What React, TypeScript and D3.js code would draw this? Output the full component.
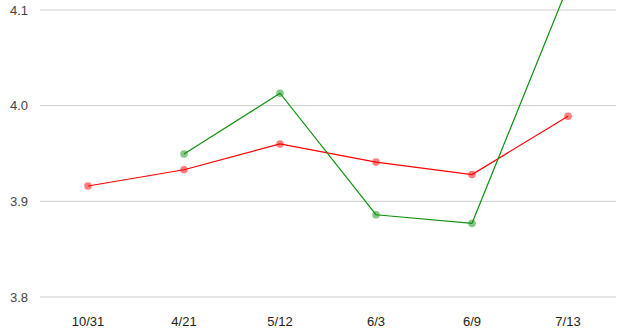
import React, { useEffect } from "react";
import * as d3 from "d3";

const categories = ["10/31", "4/21", "5/12", "6/3", "6/9", "7/13"];
const redSeries: (number | null)[] = [3.916, 3.933, 3.960, 3.941, 3.928, 3.989];
const greenSeries: (number | null)[] = [null, 3.9495, 4.013, 3.886, 3.877, 4.125];
const yTicks = [3.8, 3.9, 4.0, 4.1];

const W = 640;
const H = 336;
const left = 40;
const right = 616;
const top = 10;
const bottom = 297;

export default function App() {
  useEffect(() => {
    document.body.style.margin = "0";
  }, []);

  const x = d3.scalePoint<string>().domain(categories).range([left, right]).padding(0.5);
  const y = d3.scaleLinear().domain([3.8, 4.1]).range([bottom, top]);

  const line = d3
    .line<number | null>()
    .defined((d) => d !== null)
    .x((_, i) => x(categories[i]) as number)
    .y((d) => y(d as number));

  const series = [
    { data: redSeries, color: "#ff0000" },
    { data: greenSeries, color: "#109010" },
  ];

  return (
    <svg width={W} height={H} style={{ position: "fixed", left: 0, top: 0, display: "block" }}
      fontFamily="'Liberation Sans', Arial, sans-serif">
      <rect width={W} height={H} fill="#fff" />
      {yTicks.map((t) => (
        <g key={t}>
          <line x1={left} x2={right} y1={y(t)} y2={y(t)} stroke="#cccccc" strokeWidth={1} />
          <text x={28} y={y(t)} dy="0.35em" textAnchor="end" fontSize={13} fill="#444">
            {t.toFixed(1)}
          </text>
        </g>
      ))}
      {categories.map((c) => (
        <text key={c} x={x(c)} y={326} textAnchor="middle" fontSize={13} fill="#222">
          {c}
        </text>
      ))}
      {series.map((s, si) => (
        <g key={si}>
          <path d={line(s.data) || ""} fill="none" stroke={s.color} strokeWidth={1.2} />
          {s.data.map((v, i) =>
            v === null ? null : (
              <circle key={i} cx={x(categories[i])} cy={y(v)} r={3.8} fill={s.color} fillOpacity={0.5} />
            )
          )}
        </g>
      ))}
    </svg>
  );
}
